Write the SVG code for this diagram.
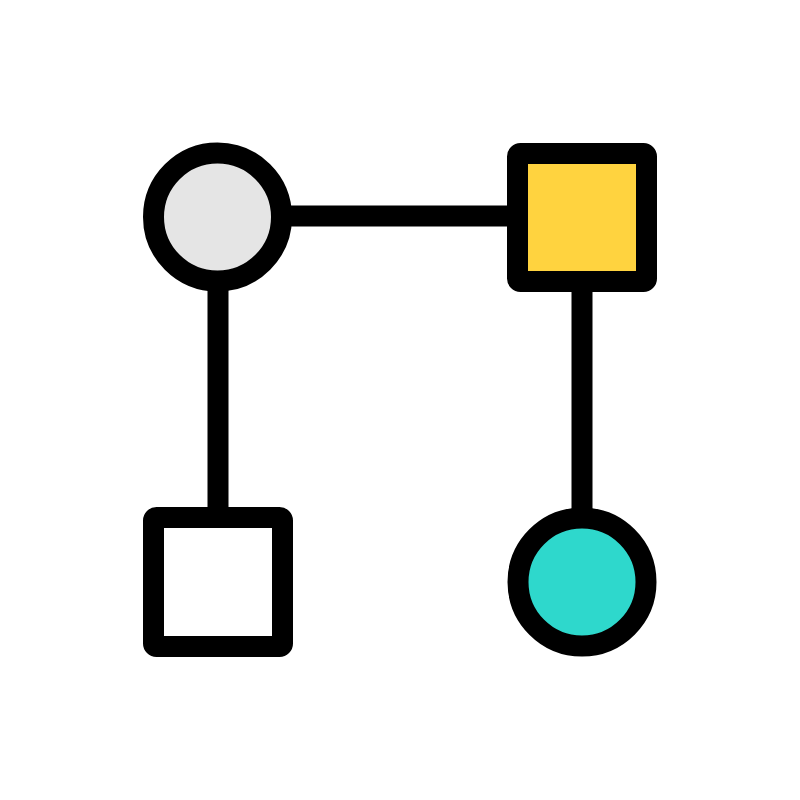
<svg xmlns="http://www.w3.org/2000/svg" width="800" height="800" viewBox="0 0 800 800">
<style>
.s{stroke:#000;stroke-width:21;}
.l{stroke:#000;stroke-width:21;fill:none;}
</style>
<rect width="800" height="800" fill="#fff"/>
<g id="connectors">
<line class="l" x1="290" y1="216" x2="510" y2="216"/>
<line class="l" x1="218" y1="288" x2="218" y2="510"/>
<line class="l" x1="582" y1="290" x2="582" y2="510"/>
</g>
<g id="node-circle-gray"><circle class="s" cx="217.5" cy="217" r="64" fill="#E5E5E5"/></g>
<g id="node-square-yellow"><rect class="s" x="517.5" y="153.5" width="129" height="128" rx="3" fill="#FFD33F"/></g>
<g id="node-square-white"><rect class="s" x="153.5" y="517.5" width="129" height="129" rx="3" fill="#FFFFFF"/></g>
<g id="node-circle-teal"><circle class="s" cx="582" cy="582" r="64" fill="#2ED8CC"/></g>
</svg>
